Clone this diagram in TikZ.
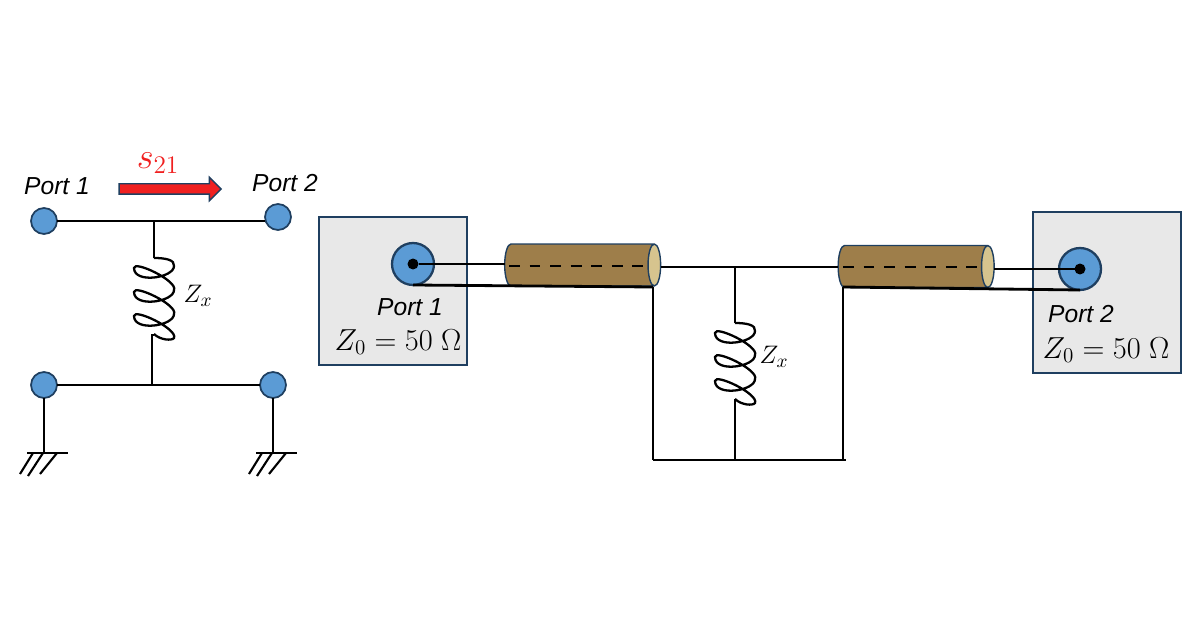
\documentclass[tikz,border=0pt]{standalone}
\usepackage{fontspec}
\setmainfont{Liberation Sans}
\usepackage{xcolor}
\usetikzlibrary{shapes.geometric,shapes.arrows}
\definecolor{portblue}{HTML}{5B9BD5}
\definecolor{edgeblue}{HTML}{1F3F60}
\definecolor{boxgray}{HTML}{E8E8E8}
\definecolor{cablebody}{HTML}{9E7E4A}
\definecolor{cableend}{HTML}{D6C48E}
\definecolor{arrowred}{HTML}{F02020}
\tikzset{
    wire/.style={black,line width=1.6pt},
    pics/coil/.style={code={
        \draw [black,line width=1.3pt] (0,0) .. controls (12,0) and (21,-2) .. (20,-8)
            \foreach \k in {0,24,48} {
                .. controls (20,-20-\k) and (-20,-26-\k) .. (-20,-10-\k)
                .. controls (-20,-2-\k) and (24,-23-\k) .. (20,-32-\k)
            }
            .. controls (18,-83) and (6,-82) .. (0,-76);
    }},
    pics/earth/.style={code={
        \draw [wire] (-17,0) -- (24,0);
        \draw [wire,line width=1.2pt] (-11,0) -- (-24,-21);
        \draw [wire,line width=1.2pt] (-1,0) -- (-16,-23);
        \draw [wire,line width=1.2pt] (13,0) -- (-4,-21);
    }}
}
\begin{document}
\begin{tikzpicture}[x=0.02cm,y=0.02cm]
        \tikzstyle{every node}=[inner sep=0pt,outer sep=0pt]
        \tikzstyle{terminal}=[circle,draw=edgeblue,line width=1pt,fill=portblue,minimum size=0.52cm]
        \tikzstyle{coaxport}=[circle,draw=edgeblue,line width=1.3pt,fill=portblue,minimum size=0.84cm]
        \tikzstyle{coaxpin}=[circle,fill=black,minimum size=0.22cm]
        \tikzstyle{portbox}=[rectangle,draw=edgeblue,line width=1pt,fill=boxgray]
        \tikzstyle{cable}=[cylinder,draw=edgeblue,line width=0.8pt,inner xsep=0pt,inner ysep=0.42cm,aspect=0.3,minimum height=3.12cm,cylinder uses custom fill,cylinder body fill=cablebody,cylinder end fill=cableend]
        \tikzstyle{portname}=[font=\fontsize{14}{16}\selectfont\itshape]
        \tikzstyle{mathlabel}=[font=\fontsize{15}{18}\selectfont]
        \tikzstyle{zerolabel}=[font=\fontsize{17}{20}\selectfont]
        \useasboundingbox (0,0) rectangle (1200,-628);
        \node [terminal] (leftA) at (44,-221) {};
        \node [terminal] (rightA) at (278,-217) {};
        \node [terminal] (leftB) at (44,-385) {};
        \node [terminal] (rightB) at (273,-385) {};
        \coordinate (topJoin) at (154,-221);
        \coordinate (coilTopA) at (154,-258);
        \coordinate (coilEndA) at (154,-335);
        \coordinate (botJoin) at (152,-385);
        \coordinate (earthA) at (44,-453);
        \coordinate (earthB) at (273,-453);
        \draw [wire] (leftA.east) -- (leftA.east -| rightA.west);
        \draw [wire] (topJoin) -- (coilTopA);
        \pic at (coilTopA) {coil};
        \draw [wire] (coilEndA) -| (botJoin);
        \draw [wire] (leftB.east) -- (rightB.west);
        \draw [wire] (leftB.south) -- (earthA);
        \draw [wire] (rightB.south) -- (earthB);
        \pic at (earthA) {earth};
        \pic at (earthB) {earth};
        \node [portname] (nameA) at (57,-186) {Port 1};
        \node [portname] (nameB) at (285,-183) {Port 2};
        \node [font=\fontsize{21}{24}\selectfont,text=arrowred] (sLabel) at (158,-163) {$s_{21}$};
        \node [single arrow,draw=edgeblue,line width=0.8pt,fill=arrowred,inner sep=0.09cm,minimum height=2.04cm,single arrow head extend=0.13cm] (sArrow) at (167.5,-189) {};
        \node [mathlabel] (zA) at (198,-296) {$Z_x$};
        \node [portbox,minimum width=2.96cm,minimum height=2.96cm] (boxA) at (393,-291) {};
        \node [portbox,minimum width=2.96cm,minimum height=3.22cm] (boxB) at (1107,-292.5) {};
        \node [coaxport] (portA) at (413,-264) {};
        \node [coaxpin] (pinA) at (413,-264) {};
        \node [coaxport] (portB) at (1080,-269) {};
        \node [coaxpin] (pinB) at (1080,-269) {};
        \node [cable] (cableA) at (576,-265) {};
        \node [cable] (cableB) at (909.5,-266.5) {};
        \coordinate (shieldA) at (653,-287);
        \coordinate (shieldB) at (843,-287);
        \coordinate (midJoin) at (735,-267);
        \coordinate (coilTopB) at (735,-323);
        \coordinate (coilEndB) at (735,-399);
        \coordinate (baseA) at (653,-460);
        \coordinate (baseB) at (735,-460);
        \coordinate (baseC) at (843,-460);
        \coordinate (baseD) at (846,-460);
        \draw [wire] (pinA) -- (pinA -| cableA.west);
        \draw [wire] (portA.south) -- (shieldA);
        \draw [wire,dashed,dash pattern=on 6.2pt off 5.5pt] (509,-266) -- (647,-266);
        \draw [wire] (cableA.east |- midJoin) -- (cableB.west |- midJoin);
        \draw [wire,dashed,dash pattern=on 6.2pt off 5.5pt] (843,-267) -- (980,-267);
        \draw [wire] (pinB -| cableB.east) -- (pinB);
        \draw [wire] (shieldB) -- (portB.south);
        \draw [wire] (shieldA) -- (baseA);
        \draw [wire] (shieldB) -- (baseC);
        \draw [wire] (baseA) -- (baseD);
        \draw [wire] (midJoin) -- (coilTopB);
        \pic at (coilTopB) {coil};
        \draw [wire] (coilEndB) -- (baseB);
        \node [mathlabel] (zB) at (774,-357) {$Z_x$};
        \node [portname] (nameC) at (410,-307) {Port 1};
        \node [zerolabel] (zeroA) at (398,-342) {$Z_0 = 50\ \Omega$};
        \node [portname] (nameD) at (1081,-314) {Port 2};
        \node [zerolabel] (zeroB) at (1106,-350) {$Z_0 = 50\ \Omega$};
    \end{tikzpicture}
\end{document}
